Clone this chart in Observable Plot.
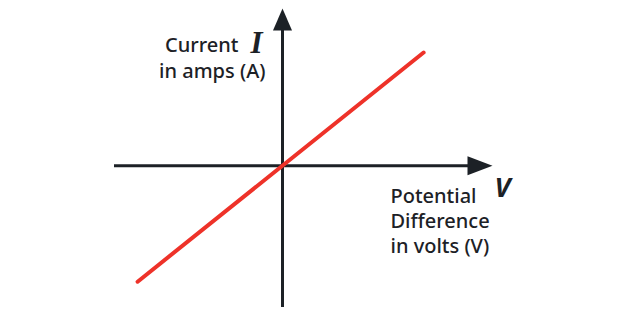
<!DOCTYPE html>
<html>
<head>
<meta charset="utf-8">
<script src="https://cdn.jsdelivr.net/npm/d3@7"></script>
<script src="https://cdn.jsdelivr.net/npm/@observablehq/plot@0.6"></script>
<style>
  html, body { margin: 0; padding: 0; background: #fff; }
  #chart { width: 630px; height: 315px; }
</style>
</head>
<body>
<div id="chart"></div>
<script>
// Axis extents (arbitrary units, origin at 0)
const xAxisExtent = [-4, 5];      // horizontal axis: from left end to arrow tip
const yAxisExtent = [-4.5, 5];    // vertical axis: from bottom end to arrow tip

// Proportional I–V relationship (ohmic conductor)
const voltage = [-3.45, 3.36];
const current = [-3.68, 3.6];

// Labels
const yLabelLines = ["Current", "in amps (A)"];
const ySymbol = "I";
const xLabelLines = ["Potential", "Difference", "in volts (V)"];
const xSymbol = "V";

const lineData = voltage.map((v, i) => ({V: v, I: current[i]}));

const ink = "#1c2126";
const red = "#ee3229";
const font = "'Noto Sans', sans-serif";
const fw = 500;
const fs = 20;

// Custom filled arrowhead symbols (tip at the anchor point, pointing right)
const arrowH = {draw(ctx) { ctx.moveTo(0, 0); ctx.lineTo(-25, -9.5); ctx.lineTo(-25, 9.5); ctx.closePath(); }};
const arrowV = {draw(ctx) { ctx.moveTo(0, 0); ctx.lineTo(-22, -9.5); ctx.lineTo(-22, 9.5); ctx.closePath(); }};

const chart = Plot.plot({
  width: 630,
  height: 315,
  marginLeft: 114,
  marginRight: 630 - 492,
  marginTop: 8,
  marginBottom: 8,
  x: {domain: xAxisExtent, axis: null},
  y: {domain: yAxisExtent, axis: null},
  style: {background: "#fff", fontFamily: font},
  marks: [
    // horizontal axis
    Plot.ruleY([0], {x1: xAxisExtent[0], x2: xAxisExtent[1] - 0.3, stroke: ink, strokeWidth: 3}),
    Plot.dot([{x: xAxisExtent[1], y: 0}], {x: "x", y: "y", symbol: arrowH, fill: ink, stroke: "none", r: 10}),
    // vertical axis
    Plot.ruleX([0], {y1: yAxisExtent[0], y2: yAxisExtent[1] - 0.3, stroke: ink, strokeWidth: 3}),
    Plot.dot([{x: 0, y: yAxisExtent[1]}], {x: "x", y: "y", symbol: arrowV, rotate: -90, fill: ink, stroke: "none", r: 10}),
    // I-V line
    Plot.line(lineData, {x: "V", y: "I", stroke: red, strokeWidth: 4, strokeLinecap: "round"}),
    // y label
    Plot.text([yLabelLines[0]], {x: 0, y: yAxisExtent[1], dx: -44, dy: 29, text: d => d, textAnchor: "end", lineAnchor: "top", fontSize: fs, fontWeight: fw, fill: ink, fontFamily: font}),
    Plot.text([yLabelLines[1]], {x: 0, y: yAxisExtent[1], dx: -17, dy: 55, text: d => d, textAnchor: "end", lineAnchor: "top", fontSize: fs, fontWeight: fw, fill: ink, fontFamily: font}),
    Plot.text([ySymbol], {x: 0, y: yAxisExtent[1], dx: -20, dy: 22, text: d => d, textAnchor: "end", lineAnchor: "top", fontSize: 31, fontWeight: "bold", fontStyle: "italic", fill: ink, fontFamily: "'Liberation Serif', serif"}),
    // x label
    Plot.text([xLabelLines.join("\n")], {x: xAxisExtent[1], y: 0, dx: -102, dy: 19, text: d => d, textAnchor: "start", lineAnchor: "top", lineHeight: 1.25, fontSize: fs, fontWeight: fw, fill: ink, fontFamily: font}),
    Plot.text([xSymbol], {x: xAxisExtent[1], y: 0, dx: 2, dy: 12, text: d => d, textAnchor: "start", lineAnchor: "top", fontSize: 27, fontWeight: "bold", fontStyle: "italic", fill: ink, fontFamily: font})
  ]
});
document.getElementById("chart").appendChild(chart);
</script>
</body>
</html>
